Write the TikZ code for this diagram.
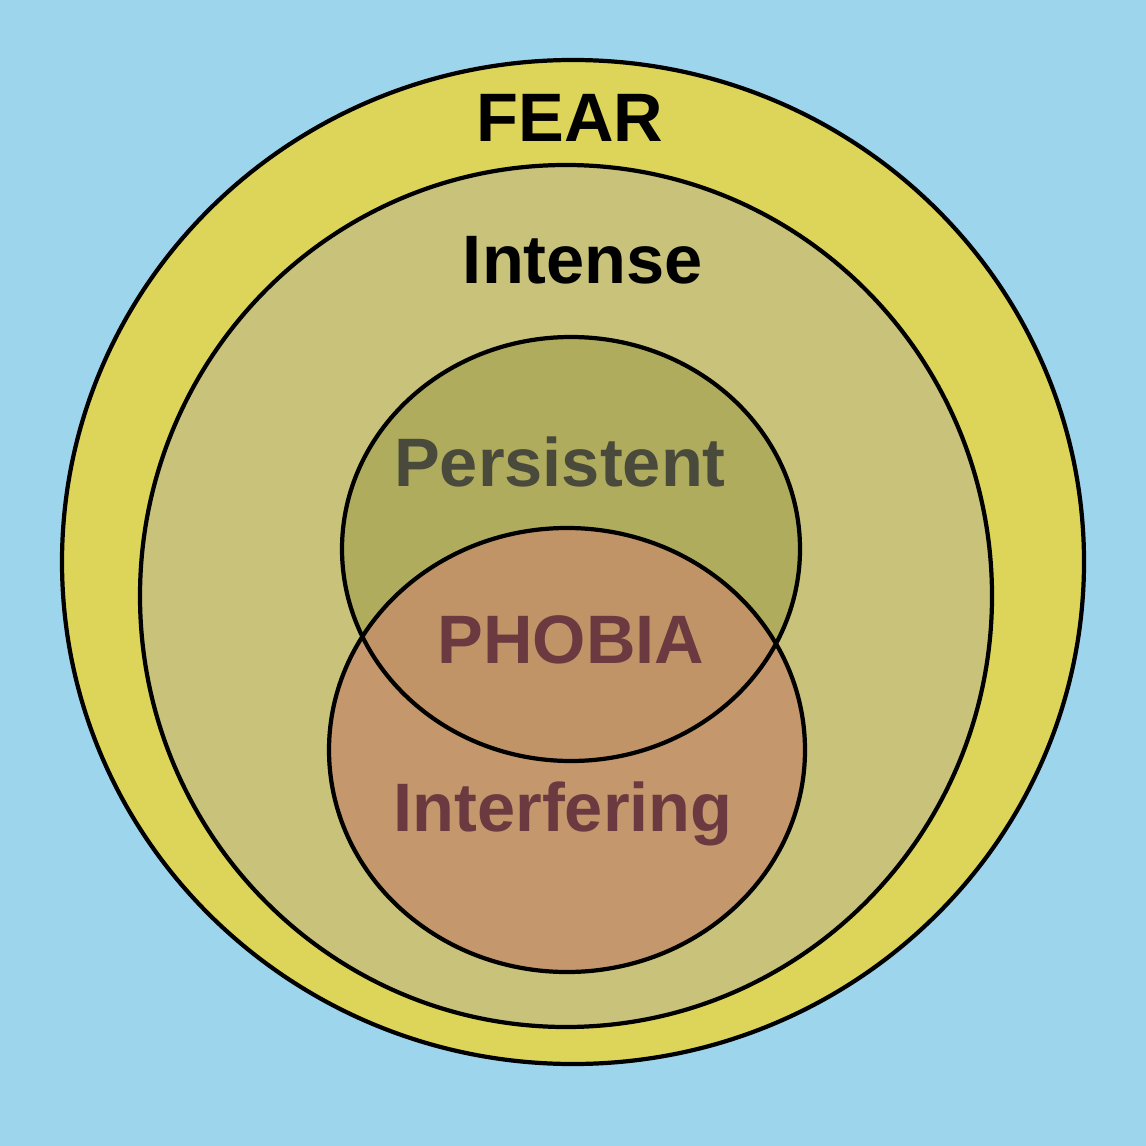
\documentclass[tikz,border=0pt]{standalone}
\usepackage{fontspec}
\setmainfont{Liberation Sans}
\definecolor{skyback}{HTML}{9DD5EC}
\definecolor{fearfill}{HTML}{DDD55A}
\definecolor{intensefill}{HTML}{C8C27A}
\definecolor{persistfill}{HTML}{9E9A48}
\definecolor{interfill}{HTML}{C4906A}
\definecolor{persisttext}{HTML}{4A4A3C}
\definecolor{phobiatext}{HTML}{6B3A40}
\tikzset{
  ring/.style={draw=black, line width=1.2pt},
  label/.style={font=\fontsize{19.5}{22}\selectfont\bfseries}
}
\begin{document}
\begin{tikzpicture}[x=0.01cm, y=-0.01cm]
        % Background
        \fill[skyback] (0,0) rectangle (1146,1146);
        \useasboundingbox (0,0) rectangle (1146,1146);

        % Circles
        \draw[ring, fill=fearfill] (573,562) ellipse [x radius=511, y radius=502];
        \draw[ring, fill=intensefill] (566,596) ellipse [x radius=426, y radius=431];
        \fill[persistfill, opacity=0.55] (571,549) ellipse [x radius=229, y radius=212];
        \fill[interfill, opacity=0.85] (567,750) ellipse [x radius=238, y radius=222];
        \draw[ring] (571,549) ellipse [x radius=229, y radius=212];
        \draw[ring] (567,750) ellipse [x radius=238, y radius=222];

        % Labels
        \node[label] (fear) at (570,118) {FEAR};
        \node[label] (intense) at (583,260) {Intense};
        \node[label, text=persisttext] (persistent) at (560,462) {Persistent};
        \node[label, text=phobiatext] (phobia) at (571,640) {PHOBIA};
        \node[label, text=phobiatext] (interfering) at (563,814) {Interfering};
\end{tikzpicture}
\end{document}
